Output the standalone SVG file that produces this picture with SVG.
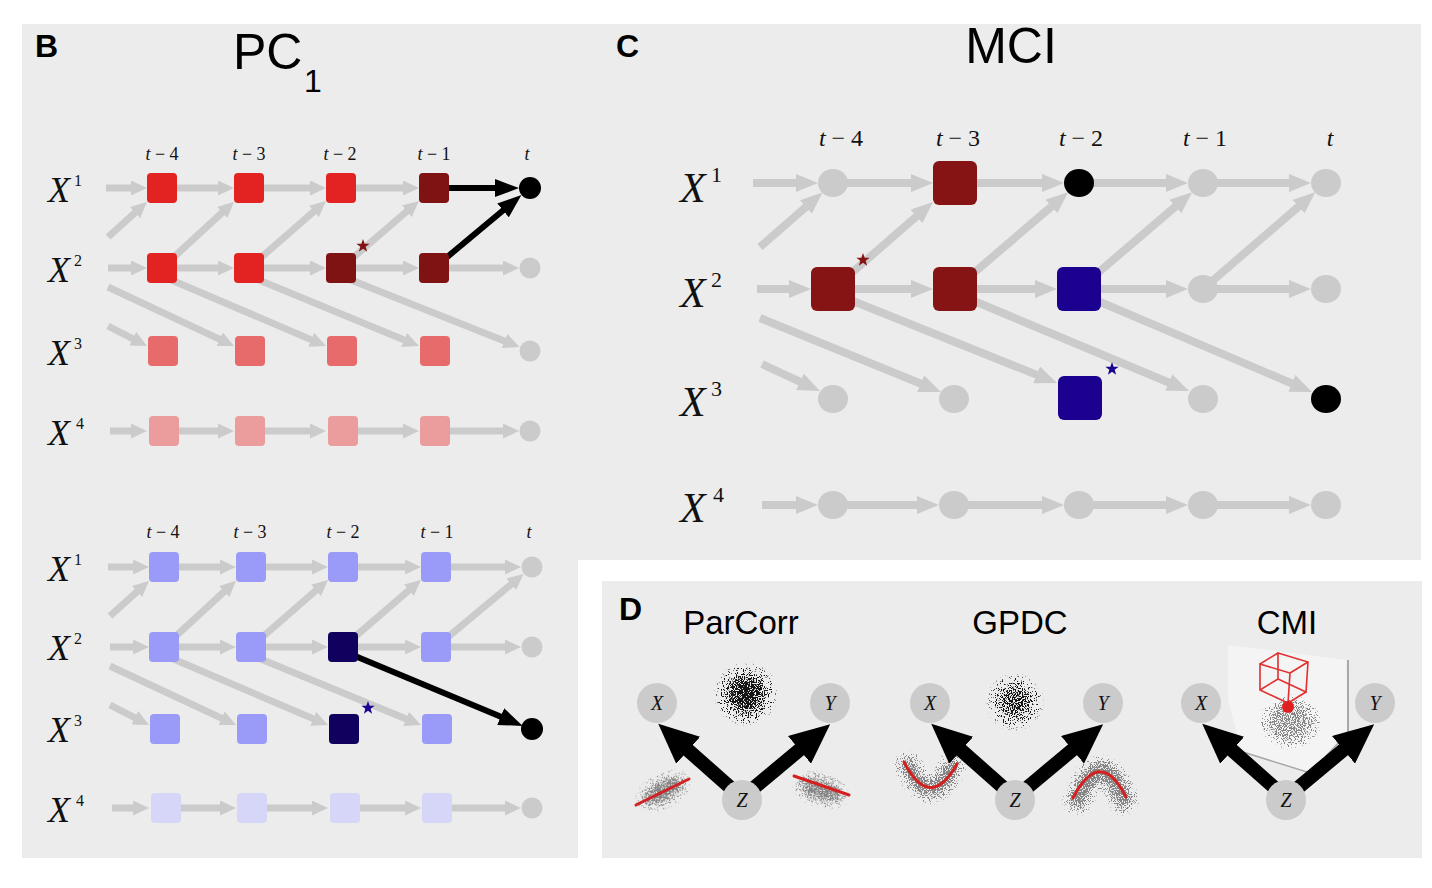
<svg xmlns="http://www.w3.org/2000/svg" width="1432" height="888" viewBox="0 0 1432 888">
<style>
.bg{fill:#ececec}
.ga{stroke:#cbcbcb;stroke-width:7;fill:none;marker-end:url(#hb)}
.gc{stroke:#cbcbcb;stroke-width:8;fill:none;marker-end:url(#hc)}
.bk{stroke:#000;stroke-width:6;fill:none;marker-end:url(#hk)}
.bd{stroke:#000;stroke-width:14;fill:none;marker-end:url(#hd)}
.sans{font-family:"Liberation Sans",Arial,sans-serif;fill:#000}
.panel{font-family:"Liberation Sans",Arial,sans-serif;font-weight:bold;font-size:32px;fill:#000}
.ser{font-family:"Liberation Serif","Times New Roman",serif;fill:#111}
.it{font-style:italic}
.gn{fill:#cbcbcb}
.r1{fill:#e32222}.r2{fill:#7f1212}.r3{fill:#e86b6b}.r4{fill:#eb9c9c}
.b1{fill:#9a9af8}.b2{fill:#12005e}.b4{fill:#d6d6f8}
.cr{fill:#861414}.cb{fill:#1c0090}
.red{stroke:#d42020;stroke-width:3;fill:none;stroke-linecap:round}
</style>
<defs>
<marker id="hb" markerUnits="userSpaceOnUse" viewBox="0 0 16 15" markerWidth="16" markerHeight="15" refX="8" refY="7.5" orient="auto"><path d="M0,0 L16,7.5 L0,15 Z" fill="#cbcbcb"/></marker>
<marker id="hc" markerUnits="userSpaceOnUse" viewBox="0 0 22 18" markerWidth="22" markerHeight="18" refX="11" refY="9" orient="auto"><path d="M0,0 L22,9 L0,18 Z" fill="#cbcbcb"/></marker>
<marker id="hk" markerUnits="userSpaceOnUse" viewBox="0 0 24 18" markerWidth="24" markerHeight="18" refX="10" refY="9" orient="auto"><path d="M0,0 L24,9 L0,18 Z" fill="#000"/></marker>
<marker id="hd" markerUnits="userSpaceOnUse" viewBox="0 0 40 36" markerWidth="40" markerHeight="36" refX="20" refY="18" orient="auto"><path d="M0,0 L40,18 L0,36 Z" fill="#000"/></marker>
<path id="star" d="M0,-7 L1.65,-2.27 L6.66,-2.16 L2.66,0.87 L4.11,5.66 L0,2.8 L-4.11,5.66 L-2.66,0.87 L-6.66,-2.16 L-1.65,-2.27 Z"/>
<filter id="spD" x="-100%" y="-100%" width="300%" height="300%" color-interpolation-filters="sRGB">
<feGaussianBlur in="SourceAlpha" stdDeviation="9" result="b"/>
<feTurbulence type="fractalNoise" baseFrequency="0.85" numOctaves="1" seed="4" result="n"/>
<feColorMatrix in="n" type="matrix" values="0 0 0 0 0 0 0 0 0 0 0 0 0 0 0 1 0 0 0 0" result="na"/>
<feComponentTransfer in="na" result="nb"><feFuncA type="linear" slope="3" intercept="-1"/></feComponentTransfer>
<feComposite in="b" in2="nb" operator="arithmetic" k1="0" k2="8" k3="8" k4="-8.6" result="m"/>
<feFlood flood-color="#151515"/>
<feComposite in2="m" operator="in"/>
</filter>
<filter id="spG" x="-100%" y="-100%" width="300%" height="300%" color-interpolation-filters="sRGB">
<feGaussianBlur in="SourceAlpha" stdDeviation="6" result="b"/>
<feTurbulence type="fractalNoise" baseFrequency="0.85" numOctaves="1" seed="9" result="n"/>
<feColorMatrix in="n" type="matrix" values="0 0 0 0 0 0 0 0 0 0 0 0 0 0 0 1 0 0 0 0" result="na"/>
<feComponentTransfer in="na" result="nb"><feFuncA type="linear" slope="3" intercept="-1"/></feComponentTransfer>
<feComposite in="b" in2="nb" operator="arithmetic" k1="0" k2="8" k3="8" k4="-8.5" result="m"/>
<feFlood flood-color="#858585"/>
<feComposite in2="m" operator="in"/>
</filter>
</defs>

<rect width="1432" height="888" fill="#fff"/>
<g id="backgrounds">
<rect class="bg" x="22" y="24" width="556" height="834"/>
<rect class="bg" x="578" y="24" width="843" height="536"/>
<rect class="bg" x="602" y="581" width="820" height="277"/>
</g>

<!-- ================= PANEL B ================= -->
<g id="panelB-titles">
<text class="panel" x="35" y="57">B</text>
<text class="sans" x="233" y="69" font-size="50">PC</text>
<text class="sans" x="304" y="92" font-size="32">1</text>
</g>

<g id="B1">
<g id="B1-labels" class="ser">
<text x="162" y="160" font-size="18" text-anchor="middle"><tspan class="it">t</tspan> − 4</text>
<text x="249" y="160" font-size="18" text-anchor="middle"><tspan class="it">t</tspan> − 3</text>
<text x="340" y="160" font-size="18" text-anchor="middle"><tspan class="it">t</tspan> − 2</text>
<text x="434" y="160" font-size="18" text-anchor="middle"><tspan class="it">t</tspan> − 1</text>
<text x="527" y="160" font-size="18" text-anchor="middle" class="it">t</text>
<text x="48" y="202" font-size="36" class="it">X</text><text x="74" y="186" font-size="16">1</text>
<text x="48" y="282" font-size="36" class="it">X</text><text x="74" y="266" font-size="16">2</text>
<text x="48" y="365" font-size="36" class="it">X</text><text x="74" y="349" font-size="16">3</text>
<text x="48" y="445" font-size="36" class="it">X</text><text x="76" y="429" font-size="16">4</text>
</g>
<g id="B1-connectors">
<line class="ga" x1="106" y1="188" x2="139" y2="188"/>
<line class="ga" x1="162" y1="188" x2="226" y2="188"/>
<line class="ga" x1="249" y1="188" x2="318" y2="188"/>
<line class="ga" x1="341" y1="188" x2="411" y2="188"/>
<line class="ga" x1="108" y1="268" x2="139" y2="268"/>
<line class="ga" x1="162" y1="268" x2="226" y2="268"/>
<line class="ga" x1="249" y1="268" x2="318" y2="268"/>
<line class="ga" x1="341" y1="268" x2="411" y2="268"/>
<line class="ga" x1="434" y1="268" x2="511" y2="268"/>
<line class="ga" x1="110" y1="431" x2="139" y2="431"/>
<line class="ga" x1="162" y1="431" x2="226" y2="431"/>
<line class="ga" x1="249" y1="431" x2="318" y2="431"/>
<line class="ga" x1="341" y1="431" x2="411" y2="431"/>
<line class="ga" x1="434" y1="431" x2="511" y2="431"/>
<line class="ga" x1="108" y1="237" x2="141" y2="207.3"/>
<line class="ga" x1="162" y1="268" x2="228.1" y2="207.2"/>
<line class="ga" x1="249" y1="268" x2="320" y2="206.2"/>
<line class="ga" x1="341" y1="268" x2="412.9" y2="206.1"/>
<line class="ga" x1="108" y1="287" x2="226.8" y2="342.6"/>
<line class="ga" x1="108" y1="326" x2="139.9" y2="342.4"/>
<line class="ga" x1="162" y1="276" x2="318.6" y2="342.9"/>
<line class="ga" x1="249" y1="276" x2="411.6" y2="343"/>
<line class="ga" x1="341" y1="276" x2="512.1" y2="344"/>
<line class="bk" x1="449" y1="188" x2="505" y2="188"/>
<line class="bk" x1="440" y1="263" x2="510.7" y2="204"/>
</g>
<g id="B1-x1-t4"><rect class="r1" x="147" y="173" width="30" height="30" rx="4"/></g>
<g id="B1-x1-t3"><rect class="r1" x="234" y="173" width="30" height="30" rx="4"/></g>
<g id="B1-x1-t2"><rect class="r1" x="326" y="173" width="30" height="30" rx="4"/></g>
<g id="B1-x1-t1"><rect class="r2" x="419" y="173" width="30" height="30" rx="4"/></g>
<g id="B1-x1-t"><circle cx="530" cy="188" r="11" fill="#000"/></g>
<g id="B1-x2-t4"><rect class="r1" x="147" y="253" width="30" height="30" rx="4"/></g>
<g id="B1-x2-t3"><rect class="r1" x="234" y="253" width="30" height="30" rx="4"/></g>
<g id="B1-x2-t2"><rect class="r2" x="326" y="253" width="30" height="30" rx="4"/></g>
<g id="B1-x2-t1"><rect class="r2" x="419" y="253" width="30" height="30" rx="4"/></g>
<g id="B1-x2-t"><circle class="gn" cx="530" cy="268" r="10.5"/></g>
<g id="B1-x3-t4"><rect class="r3" x="148" y="336" width="30" height="30" rx="4"/></g>
<g id="B1-x3-t3"><rect class="r3" x="235" y="336" width="30" height="30" rx="4"/></g>
<g id="B1-x3-t2"><rect class="r3" x="327" y="336" width="30" height="30" rx="4"/></g>
<g id="B1-x3-t1"><rect class="r3" x="420" y="336" width="30" height="30" rx="4"/></g>
<g id="B1-x3-t"><circle class="gn" cx="530" cy="351" r="10.5"/></g>
<g id="B1-x4-t4"><rect class="r4" x="149" y="416" width="30" height="30" rx="4"/></g>
<g id="B1-x4-t3"><rect class="r4" x="235" y="416" width="30" height="30" rx="4"/></g>
<g id="B1-x4-t2"><rect class="r4" x="328" y="416" width="30" height="30" rx="4"/></g>
<g id="B1-x4-t1"><rect class="r4" x="420" y="416" width="30" height="30" rx="4"/></g>
<g id="B1-x4-t"><circle class="gn" cx="530" cy="431" r="10.5"/></g>
<g id="B1-star"><use href="#star" x="363" y="246" fill="#7f1212"/></g>
</g>

<g id="B2" transform="translate(2,379)">
<g id="B2-labels" class="ser">
<text x="161" y="159" font-size="18" text-anchor="middle"><tspan class="it">t</tspan> − 4</text>
<text x="248" y="159" font-size="18" text-anchor="middle"><tspan class="it">t</tspan> − 3</text>
<text x="341" y="159" font-size="18" text-anchor="middle"><tspan class="it">t</tspan> − 2</text>
<text x="435" y="159" font-size="18" text-anchor="middle"><tspan class="it">t</tspan> − 1</text>
<text x="527" y="159" font-size="18" text-anchor="middle" class="it">t</text>
<text x="46" y="202" font-size="36" class="it">X</text><text x="72" y="186" font-size="16">1</text>
<text x="46" y="281" font-size="36" class="it">X</text><text x="72" y="265" font-size="16">2</text>
<text x="46" y="363" font-size="36" class="it">X</text><text x="72" y="347" font-size="16">3</text>
<text x="46" y="443" font-size="36" class="it">X</text><text x="74" y="427" font-size="16">4</text>
</g>
<g id="B2-connectors">
<line class="ga" x1="106" y1="188" x2="139" y2="188"/>
<line class="ga" x1="162" y1="188" x2="226" y2="188"/>
<line class="ga" x1="249" y1="188" x2="318" y2="188"/>
<line class="ga" x1="341" y1="188" x2="411" y2="188"/>
<line class="ga" x1="434" y1="188" x2="511" y2="188"/>
<line class="ga" x1="108" y1="268" x2="139" y2="268"/>
<line class="ga" x1="162" y1="268" x2="226" y2="268"/>
<line class="ga" x1="249" y1="268" x2="318" y2="268"/>
<line class="ga" x1="341" y1="268" x2="411" y2="268"/>
<line class="ga" x1="434" y1="268" x2="511" y2="268"/>
<line class="ga" x1="110" y1="429" x2="139" y2="429"/>
<line class="ga" x1="162" y1="429" x2="226" y2="429"/>
<line class="ga" x1="249" y1="429" x2="318" y2="429"/>
<line class="ga" x1="341" y1="429" x2="411" y2="429"/>
<line class="ga" x1="434" y1="429" x2="511" y2="429"/>
<line class="ga" x1="108" y1="237" x2="141" y2="207.3"/>
<line class="ga" x1="162" y1="268" x2="228.1" y2="207.2"/>
<line class="ga" x1="249" y1="268" x2="320" y2="206.2"/>
<line class="ga" x1="341" y1="268" x2="412.9" y2="206.1"/>
<line class="ga" x1="434" y1="268" x2="515.4" y2="200.1"/>
<line class="ga" x1="108" y1="287" x2="226.8" y2="342.6"/>
<line class="ga" x1="108" y1="326" x2="139.9" y2="342.4"/>
<line class="ga" x1="162" y1="276" x2="318.6" y2="342.9"/>
<line class="ga" x1="249" y1="276" x2="411.6" y2="343"/>
<line class="bk" x1="341" y1="272" x2="507.9" y2="341.5"/>
</g>
<g id="B2-x1-t4"><rect class="b1" x="147" y="173" width="30" height="30" rx="4"/></g>
<g id="B2-x1-t3"><rect class="b1" x="234" y="173" width="30" height="30" rx="4"/></g>
<g id="B2-x1-t2"><rect class="b1" x="326" y="173" width="30" height="30" rx="4"/></g>
<g id="B2-x1-t1"><rect class="b1" x="419" y="173" width="30" height="30" rx="4"/></g>
<g id="B2-x1-t"><circle class="gn" cx="530" cy="188" r="10.5"/></g>
<g id="B2-x2-t4"><rect class="b1" x="147" y="253" width="30" height="30" rx="4"/></g>
<g id="B2-x2-t3"><rect class="b1" x="234" y="253" width="30" height="30" rx="4"/></g>
<g id="B2-x2-t2"><rect class="b2" x="326" y="253" width="30" height="30" rx="4"/></g>
<g id="B2-x2-t1"><rect class="b1" x="419" y="253" width="30" height="30" rx="4"/></g>
<g id="B2-x2-t"><circle class="gn" cx="530" cy="268" r="10.5"/></g>
<g id="B2-x3-t4"><rect class="b1" x="148" y="335" width="30" height="30" rx="4"/></g>
<g id="B2-x3-t3"><rect class="b1" x="235" y="335" width="30" height="30" rx="4"/></g>
<g id="B2-x3-t2"><rect class="b2" x="327" y="335" width="30" height="30" rx="4"/></g>
<g id="B2-x3-t1"><rect class="b1" x="420" y="335" width="30" height="30" rx="4"/></g>
<g id="B2-x3-t"><circle cx="530" cy="350" r="11" fill="#000"/></g>
<g id="B2-x4-t4"><rect class="b4" x="149" y="414" width="30" height="30" rx="4"/></g>
<g id="B2-x4-t3"><rect class="b4" x="235" y="414" width="30" height="30" rx="4"/></g>
<g id="B2-x4-t2"><rect class="b4" x="328" y="414" width="30" height="30" rx="4"/></g>
<g id="B2-x4-t1"><rect class="b4" x="420" y="414" width="30" height="30" rx="4"/></g>
<g id="B2-x4-t"><circle class="gn" cx="530" cy="429" r="10.5"/></g>
<g id="B2-star"><use href="#star" x="366" y="329" fill="#1c0090"/></g>
</g>

<!-- ================= PANEL C ================= -->
<g id="panelC-titles">
<text class="panel" x="616" y="57">C</text>
<text class="sans" x="1011" y="63" font-size="50" text-anchor="middle">MCI</text>
</g>
<g id="C-labels" class="ser">
<text x="841" y="146" font-size="24" text-anchor="middle"><tspan class="it">t</tspan> − 4</text>
<text x="958" y="146" font-size="24" text-anchor="middle"><tspan class="it">t</tspan> − 3</text>
<text x="1081" y="146" font-size="24" text-anchor="middle"><tspan class="it">t</tspan> − 2</text>
<text x="1205" y="146" font-size="24" text-anchor="middle"><tspan class="it">t</tspan> − 1</text>
<text x="1330" y="146" font-size="24" text-anchor="middle" class="it">t</text>
<text x="680" y="202" font-size="42" class="it">X</text><text x="711" y="182" font-size="22">1</text>
<text x="680" y="307" font-size="42" class="it">X</text><text x="711" y="287" font-size="22">2</text>
<text x="680" y="416" font-size="42" class="it">X</text><text x="711" y="396" font-size="22">3</text>
<text x="680" y="522" font-size="42" class="it">X</text><text x="713" y="502" font-size="22">4</text>
</g>
<g id="C-connectors">
<line class="gc" x1="753" y1="183" x2="807" y2="183"/>
<line class="gc" x1="833" y1="183" x2="922" y2="183"/>
<line class="gc" x1="955" y1="183" x2="1053" y2="183"/>
<line class="gc" x1="1079" y1="183" x2="1177" y2="183"/>
<line class="gc" x1="1203" y1="183" x2="1300" y2="183"/>
<line class="gc" x1="757" y1="289" x2="800" y2="289"/>
<line class="gc" x1="833" y1="289" x2="922" y2="289"/>
<line class="gc" x1="955" y1="289" x2="1046" y2="289"/>
<line class="gc" x1="1079" y1="289" x2="1177" y2="289"/>
<line class="gc" x1="1203" y1="289" x2="1300" y2="289"/>
<line class="gc" x1="762" y1="505" x2="807" y2="505"/>
<line class="gc" x1="833" y1="505" x2="928" y2="505"/>
<line class="gc" x1="954" y1="505" x2="1053" y2="505"/>
<line class="gc" x1="1079" y1="505" x2="1177" y2="505"/>
<line class="gc" x1="1203" y1="505" x2="1300" y2="505"/>
<line class="gc" x1="760" y1="247" x2="814.2" y2="199.7"/>
<line class="gc" x1="833" y1="289" x2="924.7" y2="209.3"/>
<line class="gc" x1="955" y1="289" x2="1059.8" y2="199.4"/>
<line class="gc" x1="1079" y1="289" x2="1183.8" y2="199.4"/>
<line class="gc" x1="1203" y1="289" x2="1306.9" y2="199.4"/>
<line class="gc" x1="760" y1="318" x2="930.8" y2="387.8"/>
<line class="gc" x1="762" y1="364" x2="810" y2="386.4"/>
<line class="gc" x1="833" y1="293" x2="1046.8" y2="378.9"/>
<line class="gc" x1="955" y1="293" x2="1178.9" y2="386.8"/>
<line class="gc" x1="1079" y1="293" x2="1301.9" y2="387.7"/>
</g>
<g id="C-x1-t4"><ellipse class="gn" cx="833" cy="183" rx="15" ry="14"/></g>
<g id="C-x1-t3"><rect class="cr" x="933" y="161" width="44" height="44" rx="6"/></g>
<g id="C-x1-t2"><ellipse cx="1079" cy="183" rx="15" ry="14" fill="#000"/></g>
<g id="C-x1-t1"><ellipse class="gn" cx="1203" cy="183" rx="15" ry="14"/></g>
<g id="C-x1-t"><ellipse class="gn" cx="1326" cy="183" rx="15" ry="14"/></g>
<g id="C-x2-t4"><rect class="cr" x="811" y="267" width="44" height="44" rx="6"/></g>
<g id="C-x2-t3"><rect class="cr" x="933" y="267" width="44" height="44" rx="6"/></g>
<g id="C-x2-t2"><rect class="cb" x="1057" y="267" width="44" height="44" rx="6"/></g>
<g id="C-x2-t1"><ellipse class="gn" cx="1203" cy="289" rx="15" ry="14"/></g>
<g id="C-x2-t"><ellipse class="gn" cx="1326" cy="289" rx="15" ry="14"/></g>
<g id="C-x3-t4"><ellipse class="gn" cx="833" cy="399" rx="15" ry="14"/></g>
<g id="C-x3-t3"><ellipse class="gn" cx="954" cy="399" rx="15" ry="14"/></g>
<g id="C-x3-t2"><rect class="cb" x="1058" y="376" width="44" height="44" rx="6"/></g>
<g id="C-x3-t1"><ellipse class="gn" cx="1203" cy="399" rx="15" ry="14"/></g>
<g id="C-x3-t"><ellipse cx="1326" cy="399" rx="15" ry="14" fill="#000"/></g>
<g id="C-x4-t4"><ellipse class="gn" cx="833" cy="505" rx="15" ry="14"/></g>
<g id="C-x4-t3"><ellipse class="gn" cx="954" cy="505" rx="15" ry="14"/></g>
<g id="C-x4-t2"><ellipse class="gn" cx="1079" cy="505" rx="15" ry="14"/></g>
<g id="C-x4-t1"><ellipse class="gn" cx="1203" cy="505" rx="15" ry="14"/></g>
<g id="C-x4-t"><ellipse class="gn" cx="1326" cy="505" rx="15" ry="14"/></g>
<g id="C-stars">
<use href="#star" x="863" y="260" fill="#861414"/>
<use href="#star" x="1112" y="369" fill="#1c0090"/>
</g>

<!-- ================= PANEL D ================= -->
<g id="panelD-titles">
<text class="panel" x="619" y="620">D</text>
<text class="sans" x="741" y="634" font-size="33" text-anchor="middle">ParCorr</text>
<text class="sans" x="1020" y="634" font-size="33" text-anchor="middle">GPDC</text>
<text class="sans" x="1287" y="634" font-size="33" text-anchor="middle">CMI</text>
</g>

<g id="D-parcorr-plots">
<circle cx="746" cy="694" r="22" filter="url(#spD)"/>
<ellipse cx="663" cy="791" rx="24" ry="11" transform="rotate(-27 663 791)" filter="url(#spG)"/>
<line class="red" x1="636" y1="805" x2="689" y2="779"/>
<ellipse cx="821" cy="790" rx="24" ry="11" transform="rotate(19 821 790)" filter="url(#spG)"/>
<line class="red" x1="794" y1="776" x2="849" y2="795"/>
</g>
<g id="D-gpdc-plots">
<circle cx="1015" cy="702" r="20" fill-opacity="0.8" filter="url(#spD)"/>
<path d="M905,758 Q930,822 956,758" stroke="#000" stroke-width="16" fill="none" filter="url(#spG)"/>
<path class="red" d="M904,762 Q930,812 957,764"/>
<path d="M1075,808 Q1100,732 1127,808" stroke="#000" stroke-width="18" fill="none" filter="url(#spG)"/>
<path class="red" d="M1073,798 Q1100,746 1126,797"/>
</g>
<g id="D-cmi-plots">
<polygon points="1228,645 1346,660 1348,735 1310,772 1242,752 1228,700" fill="#f4f4f4"/>
<line x1="1348" y1="660" x2="1348" y2="735" stroke="#a8a8a8" stroke-width="2"/>
<polyline points="1243,752 1310,773 1343,738" fill="none" stroke="#a8a8a8" stroke-width="1.5"/>
<ellipse cx="1290" cy="722" rx="26" ry="22" fill-opacity="0.65" filter="url(#spG)"/>
<g fill="none" stroke="#e03030" stroke-width="1.6">
<polygon points="1260,664 1290,673 1288,703 1260,690"/>
<polygon points="1278,653 1308,662 1306,692 1278,679"/>
<line x1="1260" y1="664" x2="1278" y2="653"/>
<line x1="1290" y1="673" x2="1308" y2="662"/>
<line x1="1288" y1="703" x2="1306" y2="692"/>
<line x1="1260" y1="690" x2="1278" y2="679"/>
</g>
<circle cx="1288" cy="707" r="6" fill="#e02020"/>
</g>

<g id="D-connectors">
<line class="bd" x1="741" y1="797" x2="673.2" y2="737"/>
<line class="bd" x1="743" y1="797" x2="814.8" y2="737"/>
<line class="bd" x1="1014" y1="797" x2="946.2" y2="737"/>
<line class="bd" x1="1016" y1="797" x2="1087.8" y2="737"/>
<line class="bd" x1="1285" y1="797" x2="1217.2" y2="737"/>
<line class="bd" x1="1287" y1="797" x2="1358.8" y2="737"/>
</g>

<g id="D-parcorr-X"><circle class="gn" cx="657" cy="703" r="20"/><text class="ser it" x="657" y="710" font-size="20" text-anchor="middle">X</text></g>
<g id="D-parcorr-Y"><circle class="gn" cx="830" cy="703" r="20"/><text class="ser it" x="830" y="710" font-size="20" text-anchor="middle">Y</text></g>
<g id="D-parcorr-Z"><circle class="gn" cx="742" cy="800" r="20"/><text class="ser it" x="742" y="807" font-size="20" text-anchor="middle">Z</text></g>
<g id="D-gpdc-X"><circle class="gn" cx="930" cy="703" r="20"/><text class="ser it" x="930" y="710" font-size="20" text-anchor="middle">X</text></g>
<g id="D-gpdc-Y"><circle class="gn" cx="1103" cy="703" r="20"/><text class="ser it" x="1103" y="710" font-size="20" text-anchor="middle">Y</text></g>
<g id="D-gpdc-Z"><circle class="gn" cx="1015" cy="800" r="20"/><text class="ser it" x="1015" y="807" font-size="20" text-anchor="middle">Z</text></g>
<g id="D-cmi-X"><circle class="gn" cx="1201" cy="703" r="20"/><text class="ser it" x="1201" y="710" font-size="20" text-anchor="middle">X</text></g>
<g id="D-cmi-Y"><circle class="gn" cx="1375" cy="703" r="20"/><text class="ser it" x="1375" y="710" font-size="20" text-anchor="middle">Y</text></g>
<g id="D-cmi-Z"><circle class="gn" cx="1286" cy="800" r="20"/><text class="ser it" x="1286" y="807" font-size="20" text-anchor="middle">Z</text></g>
</svg>
